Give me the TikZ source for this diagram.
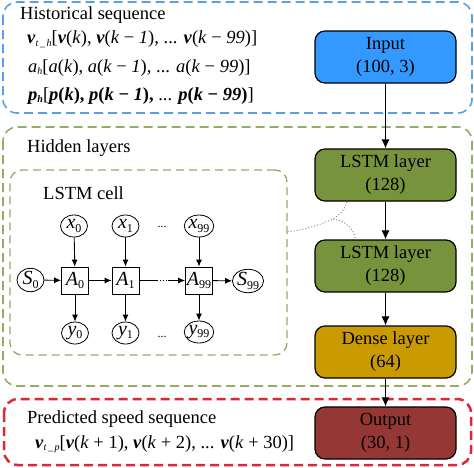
\documentclass[tikz,border=0pt]{standalone}
\usepackage{fontspec}
\setmainfont{Liberation Serif}
\usetikzlibrary{shapes.geometric,arrows.meta,calc}
\definecolor{inblue}{RGB}{51,153,255}
\definecolor{lstmgreen}{RGB}{119,147,60}
\definecolor{densegold}{RGB}{201,155,0}
\definecolor{outred}{RGB}{149,55,53}
\definecolor{dashblue}{RGB}{90,160,230}
\definecolor{dashgreen}{RGB}{150,170,105}
\definecolor{dashred}{RGB}{222,40,50}
\definecolor{dotgrey}{RGB}{140,150,110}
\newcommand{\bv}{\textbf{\textit{v}}}
\newcommand{\sbx}[1]{\raisebox{-0.35ex}{\fontsize{10}{10}\selectfont #1}}
\newcommand{\csb}[1]{\raisebox{-0.35ex}{\fontsize{12}{12}\selectfont\upshape #1}}
\begin{document}
\begin{tikzpicture}[x=1pt,y=-1pt,
  layer/.style={draw, line width=1.2pt, rounded corners=10pt, minimum width=141pt,
    minimum height=52pt, align=center, inner sep=0pt,
    font=\fontsize{18.5}{23}\selectfont},
  txt/.style={anchor=base west, inner sep=0pt, font=\fontsize{18.5}{22}\selectfont},
  mainarrow/.style={-{Latex[length=9pt,width=8pt]}, line width=1pt},
  carrow/.style={-{Latex[length=7pt,width=6pt]}, line width=0.9pt},
  ell/.style={draw, ellipse, minimum width=27pt, minimum height=22pt, inner sep=0pt,
    line width=0.8pt, font=\fontsize{20}{20}\selectfont\itshape},
  sq/.style={draw, rectangle, minimum size=27pt, inner sep=0pt,
    line width=0.8pt, font=\fontsize{20}{20}\selectfont\itshape},
  bluebox/.style={draw=dashblue, line width=1.6pt, dash pattern=on 9pt off 5pt, rounded corners=14pt},
  greenbox/.style={draw=dashgreen, line width=1.6pt, dash pattern=on 9pt off 5pt, rounded corners=14pt},
  redbox/.style={draw=dashred, line width=2.5pt, dash pattern=on 9pt off 5pt, rounded corners=14pt},
  cellframe/.style={draw=dashgreen, line width=1.3pt, dash pattern=on 8pt off 5pt, rounded corners=12pt,
    minimum width=277pt, minimum height=185pt, inner sep=0pt},
  dotconn/.style={draw=dotgrey, line width=1pt, dotted},
  dots/.style={anchor=base, inner sep=0pt, font=\fontsize{12}{12}\selectfont}
]
\useasboundingbox (0,0) rectangle (474,467);
% frames
\draw[bluebox] (3,2) rectangle (472,113);
\draw[greenbox] (3,127) rectangle (472,386);
\draw[redbox] (4,399) rectangle (471,465);
\node[cellframe] (cell) at (148.5,262.5) {};

% texts
\node[txt] (t1) at (20,19) {Historical sequence};
\node[txt] (t2) at (27,43.5) {\bv\sbx{\textit{t\,\_\,h}}[\bv(\textit{k}), \bv(\textit{k} − \textit{1}), ... \bv(\textit{k} − \textit{99})]};
\node[txt] (t3) at (28,72) {\textit{a}\sbx{\textit{h}}[\textit{a}(\textit{k}), \textit{a}(\textit{k} − \textit{1}), ... \textit{a}(\textit{k} − \textit{99})]};
\node[txt] (t4) at (28,100) {\textbf{\textit{p}}\sbx{\textbf{\textit{h}}}[\textbf{\textit{p}(\textit{k}), \textit{p}(\textit{k} − \textit{1}),} ... \textbf{\textit{p}(\textit{k} − \textit{99})}]};
\node[txt] (t5) at (27,152) {Hidden layers};
\node[txt] (t6) at (43,199) {LSTM cell};
\node[txt] (t7) at (27,423) {Predicted speed sequence};
\node[txt] (t8) at (35,448) {\bv\sbx{\textit{t\,\_\,p}}[\bv(\textit{k} + 1), \bv(\textit{k} + 2), ... \bv(\textit{k} + 30)]};

% main nodes
\node[layer, fill=inblue] (in) at (385.5,57) {Input\\(100, 3)};
\node[layer, fill=lstmgreen] (L1) at (385.5,175) {LSTM layer\\(128)};
\node[layer, fill=lstmgreen] (L2) at (385.5,266) {LSTM layer\\(128)};
\node[layer, fill=densegold] (dn) at (385.5,352) {Dense layer\\(64)};
\node[layer, fill=outred] (out) at (385.5,433) {Output\\(30, 1)};
\draw[mainarrow] (in) -- (L1);
\draw[mainarrow] (L1) -- (L2);
\draw[mainarrow] (L2) -- (dn);
\draw[mainarrow] (dn) -- (out);

% LSTM cell contents
\node[ell] (x0) at (74,226) {x\csb{0}};
\node[ell] (x1) at (125.5,226) {x\csb{1}};
\node[ell] (x99) at (199,226) {x\csb{99}};
\node[sq] (A0) at (75,280.5) {A\csb{0}};
\node[sq] (A1) at (125.5,280.5) {A\csb{1}};
\node[sq] (A99) at (199,280.5) {A\csb{99}};
\node[ell] (S0) at (30.5,280) {S\csb{0}};
\node[ell] (S99) at (248,281) {S\csb{99}};
\node[ell] (y0) at (75,333) {y\csb{0}};
\node[ell] (y1) at (125.5,333) {y\csb{1}};
\node[ell] (y99) at (199,332) {y\csb{99}};
\node[dots] (d1) at (162,227) {...};
\node[dots] (d2) at (162,337) {...};
\coordinate (m1) at (157,280.5);
\coordinate (m2) at (168,280.5);
\draw[carrow] (x0) -- (A0);
\draw[carrow] (x1) -- (A1);
\draw[carrow] (x99) -- (A99);
\draw[carrow] (A0) -- (y0);
\draw[carrow] (A1) -- (y1);
\draw[carrow] (A99) -- (y99);
\draw[carrow] (S0) -- (A0);
\draw[carrow] (A0) -- (A1);
\draw[line width=0.9pt] (A1) -- (m1);
\draw[line width=0.9pt, dotted] (m1) -- (m2);
\draw[carrow] (m2) -- (A99);
\draw[carrow] (A99) -- (S99);

% dotted link from cell to LSTM layers
\coordinate (c1) at ($(cell.north east)!0.335!(cell.south east)$);
\coordinate (j) at (333,219);
\draw[dotconn] (c1) .. controls (305,230) and (322,224) .. (j)
  .. controls (341,214) and (345,209) .. ($(L1.south)+(-38.5,0)$);
\draw[dotconn] (j) .. controls (347,221) and (354,230) .. ($(L2.north)+(-30,0)$);
\end{tikzpicture}
\end{document}
